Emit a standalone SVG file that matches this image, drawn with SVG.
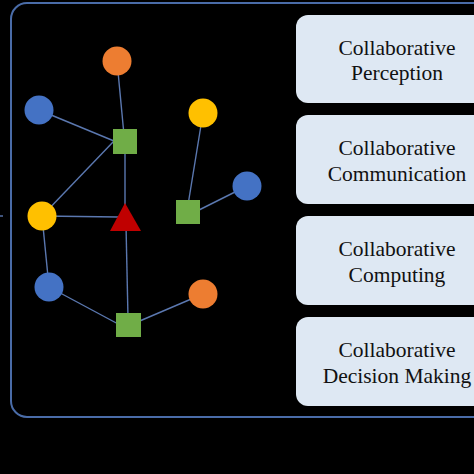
<svg xmlns="http://www.w3.org/2000/svg" width="474" height="474" viewBox="0 0 474 474">
<style>
.edge{stroke:#5b78b0;stroke-width:1.4;fill:none}
.box{fill:#dee8f3}
.lbl{font-family:"Liberation Serif","Times New Roman",serif;font-size:21.5px;fill:#111;text-anchor:middle}
.blue{fill:#4472c4}.orange{fill:#ed7d31}.yellow{fill:#ffc000}.green{fill:#70ad47}.red{fill:#c00000}
</style>
<rect x="0" y="0" width="474" height="474" fill="#000"/>
<rect x="11" y="3" width="480" height="414" rx="16" fill="none" stroke="#4a6ca8" stroke-width="2"/>
<g id="connectors">
<line class="edge" x1="0" y1="216" x2="3" y2="216"/>
<line class="edge" x1="117" y1="61" x2="124" y2="135"/>
<line class="edge" x1="39" y1="110" x2="114" y2="141"/>
<line class="edge" x1="42" y1="216" x2="114" y2="141"/>
<line class="edge" x1="125" y1="150" x2="125" y2="210"/>
<line class="edge" x1="42" y1="216" x2="118" y2="217"/>
<line class="edge" x1="126" y1="225" x2="128" y2="318"/>
<line class="edge" x1="42" y1="216" x2="49" y2="287"/>
<line class="edge" x1="49" y1="287" x2="120" y2="325"/>
<line class="edge" x1="135" y1="323" x2="203" y2="294"/>
<line class="edge" x1="203" y1="113" x2="188" y2="205"/>
<line class="edge" x1="195" y1="212" x2="247" y2="186"/>
</g>
<g id="n-orange-top"><circle class="orange" cx="117" cy="61" r="14.5"/></g>
<g id="n-blue-tl"><circle class="blue" cx="39" cy="110" r="14.5"/></g>
<g id="n-green-1"><rect class="green" x="113" y="129" width="24" height="25"/></g>
<g id="n-yellow-tr"><circle class="yellow" cx="203" cy="113" r="14.5"/></g>
<g id="n-blue-r"><circle class="blue" cx="247" cy="186" r="14.5"/></g>
<g id="n-green-2"><rect class="green" x="176" y="200" width="24" height="24"/></g>
<g id="n-yellow-l"><circle class="yellow" cx="42" cy="216" r="14.5"/></g>
<g id="n-red"><polygon class="red" points="125,203 141,231 110,231"/></g>
<g id="n-blue-bl"><circle class="blue" cx="49" cy="287" r="14.5"/></g>
<g id="n-orange-br"><circle class="orange" cx="203" cy="294" r="14.5"/></g>
<g id="n-green-3"><rect class="green" x="116" y="313" width="25" height="24"/></g>
<g id="box-perception"><rect class="box" x="296" y="15" width="200" height="88" rx="12"/>
<text class="lbl" x="397" y="55">Collaborative</text><text class="lbl" x="397" y="80">Perception</text></g>
<g id="box-communication"><rect class="box" x="296" y="115" width="200" height="89" rx="12"/>
<text class="lbl" x="397" y="155">Collaborative</text><text class="lbl" x="397" y="181">Communication</text></g>
<g id="box-computing"><rect class="box" x="296" y="216" width="200" height="89" rx="12"/>
<text class="lbl" x="397" y="256">Collaborative</text><text class="lbl" x="397" y="282">Computing</text></g>
<g id="box-decision"><rect class="box" x="296" y="317" width="200" height="89" rx="12"/>
<text class="lbl" x="397" y="357">Collaborative</text><text class="lbl" x="397" y="383">Decision Making</text></g>
</svg>
